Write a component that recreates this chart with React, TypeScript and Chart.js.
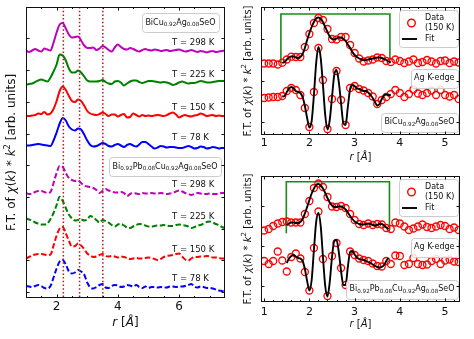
import React, { useEffect, useRef } from "react";
import { Chart, registerables } from "chart.js";

Chart.register(...registerables);

const SANS = "'DejaVu Sans', 'Liberation Sans', sans-serif";
const INK = "#111111";

// ---------------- Left panel: F.T. magnitudes stacked by temperature ----------------
const leftR = [
  1.0, 1.1, 1.2, 1.3, 1.4, 1.5, 1.6, 1.7, 1.8, 1.9, 2.0, 2.1, 2.2, 2.3, 2.4, 2.5, 2.6, 2.7, 2.8, 2.9,
  3.0, 3.1, 3.2, 3.3, 3.4, 3.5, 3.6, 3.7, 3.8, 3.9, 4.0, 4.1, 4.2, 4.3, 4.4, 4.5, 4.6, 4.7, 4.8, 4.9,
  5.0, 5.1, 5.2, 5.3, 5.4, 5.5, 5.6, 5.7, 5.8, 5.9, 6.0, 6.1, 6.2, 6.3, 6.4, 6.5, 6.6, 6.7, 6.8, 6.9,
  7.0, 7.1, 7.2, 7.3, 7.4, 7.5,
];
// BiCu0.92Ag0.08SeO
const bicu298 = [0, -1.5, 0, 1.5, 0, -1, 2, 1, 0, 8, 18, 26, 27.5, 22, 16, 13, 13.5, 14, 10, 5, 2.5, 2.5, 3, 0.5, 2, 4.5, 3, 0.5, -1, 3, 6, 3.5, 1.5, 1, 2.5, 1.5, 0, -1, 0.5, 1.5, 0.5, 0, 1, 0.5, -0.5, 0, 0.5, -0.5, 0, 0.5, 1, 0, -1, -0.5, 0.5, -0.5, -1.5, -0.5, -1, -2, -1, -0.5, -1.5, -1, -0.5, 0];
const bicu225 = [-2.5, -1.5, -1, 0.5, 2, 3, 2, 1, 5, 11, 18, 28, 27, 22, 14, 10, 10, 12, 10, 6, 2, 1, 1, 1, 1.5, 2.5, 0.5, -1, -1.5, 1, 1.5, 0, -3, -1, 1, 2, 2, 0.5, -0.5, 0.5, 1.5, 1.5, 1, 0.5, 0, 0.5, 0, -1, -2.5, -1.5, 0, 1, 0, -1, -0.5, -0.5, 0.5, 1.5, 1, 0, 0, 0.5, 1, 1.5, 1.5, 1.5];
const bicu150 = [0, 0, 0.5, 1, 2.5, 2, 4, 1.5, 2.5, 7, 15, 25, 29.5, 26, 20, 15, 14, 16.5, 15, 10.5, 5, 2.5, 1.5, 1, 2, 3.5, 2, 0, 1.5, 1.5, -0.5, 1, 2, -1.5, -1, 2.5, 1, -0.5, 1, 0, 0.5, 0, 0.5, 1, 0.5, 0, 1, 2.5, 3.5, 1.5, -1.5, 0, 1, 0, -0.5, 0.5, 1, 2.5, 1.5, 0, 0.5, 1, 0, 0.5, 0, 0];
const bicu78 = [0, 0, 0.5, 1, 1.5, 1, 0.5, 0, -0.5, 5, 13, 22, 27.5, 25, 19, 16, 15, 17, 16, 11, 5, 0.5, -1, -0.5, 1, 2.5, 1.5, -0.5, -1, 0.5, 1.5, 0, -1.5, 0.5, 1.5, 0, -1, 1, 3.5, 3.5, 1.5, -1, -3, -2, -0.5, -1, -2, -1.5, -1.5, -2, -2.5, -2.5, -1.5, -0.5, -1.5, -3, -2.5, -1, -1.5, -3, -2.5, -1.5, -2, -3, -2.5, -2.5];
// Bi0.92Pb0.08Cu0.92Ag0.08SeO
const pb298 = [0, -1, -0.5, 1, 2, 2, 1, 0, 1, 10, 20, 27, 26, 20, 15, 13, 12, 12.5, 10, 7.5, 6.5, 6, 5, 3, 0, 2, 4, 2.5, 1.5, 0.5, 0.5, 1, 0, -3, -1, 0, -0.5, -1, 0, -0.5, -0.5, 0, -0.5, -0.5, 0, -0.5, -1, -0.5, 0, 1.5, 2.5, 1.5, 0, -1, -2, -1, 0, -0.5, -1, -1, -0.5, -1, -1, -0.5, 0, 0];
const pb225 = [6.7, 5.5, 4.5, 2.5, 1.5, 0.5, 0.5, 1.5, 6, 12, 20, 28.3, 24, 17, 10.5, 6.7, 4.5, 5, 5.5, 4.5, 5.5, 9, 7.5, 5, 2.5, 5, 4, 2.3, 0, -1.5, 0.5, 1, -0.5, -2.5, -3, -1.5, 0, 1, 0.5, -0.5, -1.5, -1.5, -1, -0.5, -0.5, 0, -0.5, -1, -1, 0, 0.5, 0, -0.5, -1.5, -3, -2, -0.5, 0, 1.5, 3, 3.5, 2.5, 1, 0, -2, -3];
const pb150 = [-1, 0.5, 2, 3, 3.5, 3.5, 3, 2.5, 3, 12, 22, 29, 30.5, 24, 17, 11, 11.5, 14, 12, 8.5, 4, 2, 0.5, 1, 2.5, 3.5, 1.5, 1, 1.5, 1, 0, 1, 0.5, -0.5, -1.5, -1, -0.5, -1, -1, -0.5, 0, -0.5, -1.5, -2.5, -1.5, 0.5, 1.5, 2, 2.5, 3.5, 4, 1, -2, -3, -1, 0.5, 0.5, 1, 1, 1.5, 1, 0, 0, -0.5, -1, -1];
const pb78 = [0.5, 0, -0.5, 0.5, 1.5, 0.5, -1.5, -2, 0.5, 9, 18, 25, 26.5, 22, 15, 13, 14, 16.5, 15, 12, 4, -1, -2, -0.5, 1.5, 2.5, -1, -1.5, 0.5, 1.5, 1, -0.5, 0, 1.5, 1, 0, 1.5, -0.5, -1.5, 0, -1.5, -0.5, -0.5, -1, -0.5, -1, -1, 0, 0, -0.5, 0, 0, 0.5, 1.5, 2.5, 0, -1, 0, -0.5, -1.5, -1.5, -2, -3, -4, -4.5, -5];

const leftCurves = [bicu298, bicu225, bicu150, bicu78, pb298, pb225, pb150, pb78];
const leftOffsets = [241.5, 209.5, 176, 146.5, 99, 67, 34.5, 5.5];
const leftTemps = ["298", "225", "150", "78", "298", "225", "150", "78"];
const tempColors = ["#bf00bf", "#008000", "#ff0000", "#0000ff"];
const shellMarkers = [2.22, 2.75, 3.51];

const leftXMajor = [2, 4, 6];
const leftXMinor = [1.5, 2.5, 3, 3.5, 4.5, 5, 5.5, 6.5, 7];
const leftYMajor = [0, 31.7, 63.4, 95.1, 126.8, 158.5, 190.2, 221.9, 253.6];

// ---------------- Right panels: Ag K-edge fits at 150 K ----------------
const rightR = [
  1.0, 1.1, 1.2, 1.3, 1.4, 1.5, 1.6, 1.7, 1.8, 1.9, 2.0, 2.1, 2.2, 2.3, 2.4, 2.5, 2.6, 2.7, 2.8, 2.9,
  3.0, 3.1, 3.2, 3.3, 3.4, 3.5, 3.6, 3.7, 3.8, 3.9, 4.0, 4.1, 4.2, 4.3, 4.4, 4.5, 4.6, 4.7, 4.8, 4.9,
  5.0, 5.1, 5.2, 5.3,
];
const bicuMag = [71.5, 71.5, 71.5, 70.5, 72.3, 75.5, 78.3, 78, 78, 88, 101, 112, 117, 115, 106, 96, 95.5, 98, 98, 90, 82, 76.5, 73.5, 74.5, 75.5, 77.5, 77, 74, 73, 75.5, 74, 72, 73.5, 75.5, 72, 73, 75, 73.5, 71.5, 74, 74.5, 72, 73.5, 72.5];
const bicuIm = [37, 37.5, 38, 38, 39, 44, 47, 45, 40, 27, 8, 43, 87, 55, 6, 36, 64, 35, 10, 47, 49, 46, 44.5, 42, 38.5, 31, 35, 38, 41, 45, 42, 38, 41, 45.5, 41.5, 40, 42, 44.5, 40, 45, 40, 38.5, 40, 36];
const bicuFitR = [
  1.4, 1.45, 1.5, 1.55, 1.6, 1.65, 1.7, 1.75, 1.8, 1.85, 1.9, 1.95, 2.0, 2.05, 2.1, 2.15, 2.2, 2.25, 2.3, 2.35,
  2.4, 2.45, 2.5, 2.55, 2.6, 2.65, 2.7, 2.75, 2.8, 2.85, 2.9, 2.95, 3.0, 3.05, 3.1, 3.15, 3.2, 3.25, 3.3, 3.35,
  3.4, 3.45, 3.5, 3.55, 3.6, 3.65, 3.7, 3.75, 3.8,
];
const bicuFitMag = [72, 73, 75.5, 77.5, 78.5, 78.5, 77.5, 77, 78, 81, 87, 95, 102, 108, 113, 116.5, 117.5, 116, 113, 108, 103, 98.5, 96, 95.5, 96.5, 97.5, 97.5, 96, 94, 90.5, 87, 83, 80, 78, 76.5, 75.5, 75, 75, 75.5, 76, 76.5, 77, 77.5, 77.5, 77, 76, 75, 73.5, 72.5];
const bicuFitIm = [38.5, 39, 43, 46.5, 48, 46.5, 44, 43, 42, 38, 29, 17, 7.5, 14, 40, 72, 88, 77, 50, 20, 5.5, 15, 38, 60, 65, 53, 32, 12, 10, 28, 46, 50, 49, 46.5, 46, 45, 44, 44, 42.5, 40, 37, 33, 29.5, 31, 36, 39.5, 40.5, 40, 40];
const bicuWindowR = [1.37, 1.37, 3.78, 3.78];
const bicuWindowY = [72, 121, 121, 75];

const pbMag = [71.5, 73, 76, 78.5, 80, 80.5, 79.5, 79.5, 79.5, 88, 101, 114, 118.5, 115, 105, 95.5, 95, 96, 94, 88, 82, 78, 77, 78.5, 77, 78, 77.5, 74, 73, 79.5, 78.5, 75.5, 72, 73.5, 75.5, 77.5, 75, 74, 75.5, 77, 76, 73, 74.5, 72];
const pbIm = [41, 38, 41, 50.5, 41.5, 30.5, 45, 48.5, 43.5, 30, 11.5, 54, 90.5, 43, 6, 46, 59, 34, 17, 50.5, 47, 43.5, 42, 41, 38.5, 36, 35.5, 41, 38, 46.5, 46, 37, 38, 44, 38, 37, 37.5, 41, 43, 38, 41.5, 42.5, 40.5, 40];
const pbFitR = [
  1.5, 1.55, 1.6, 1.65, 1.7, 1.75, 1.8, 1.85, 1.9, 1.95, 2.0, 2.05, 2.1, 2.15, 2.2, 2.25, 2.3, 2.35, 2.4, 2.45,
  2.5, 2.55, 2.6, 2.65, 2.7, 2.75, 2.8, 2.85, 2.9, 2.95, 3.0, 3.05, 3.1, 3.15, 3.2, 3.25, 3.3, 3.35, 3.4, 3.45,
  3.5, 3.55, 3.6, 3.65, 3.7, 3.75,
];
const pbFitMag = [77, 78.5, 79.5, 79.5, 79, 79, 80, 83, 88.5, 95, 102, 108.5, 113.5, 117, 118, 116.5, 113.5, 109, 104, 99.5, 96.5, 95, 95, 95.5, 95.5, 94.5, 92.5, 89.5, 86, 83, 80.5, 79, 78, 77.5, 77.5, 78, 78.5, 78, 77, 76.5, 77, 78, 78, 76.5, 74.5, 73];
const pbFitIm = [39, 43.5, 46, 47, 45.5, 44, 43.5, 41, 33, 21, 11.5, 22, 52, 80, 89, 76, 45, 16, 5.5, 20, 45, 61, 62, 50, 31, 17, 17, 35, 50, 51, 47.5, 44.5, 43, 42.5, 42, 41, 40, 39, 37.5, 36, 35, 34.5, 35, 37, 41, 44];
const pbWindowR = [1.49, 1.49, 3.77, 3.77];
const pbWindowY = [68.7, 120.3, 120.3, 70.3];

const rightXMajor = [1, 2, 3, 4, 5];
const rightXMinor = [1.2, 1.4, 1.6, 1.8, 2.2, 2.4, 2.6, 2.8, 3.2, 3.4, 3.6, 3.8, 4.2, 4.4, 4.6, 4.8, 5.2];
const bicuYMajor = [13.3, 54.5, 95.7];
const pbYMajor = [16, 55.8, 95.6];

const BICU = "BiCu0.92Ag0.08SeO";
const PB = "Bi0.92Pb0.08Cu0.92Ag0.08SeO";

// ---------------- rich text helpers ----------------
type Seg = { t: string; sub?: boolean; sup?: boolean; it?: boolean };

function formula(str: string): Seg[] {
  return str
    .split(/(\d+(?:\.\d+)?)/)
    .filter((s) => s.length > 0)
    .map((s) => (/^\d/.test(s) ? { t: s, sub: true } : { t: s }));
}

function segFont(s: Seg, size: number) {
  const sz = s.sub || s.sup ? size * 0.7 : size;
  return `${s.it ? "italic " : ""}${sz}px ${SANS}`;
}

function segsWidth(ctx: CanvasRenderingContext2D, segs: Seg[], size: number) {
  let w = 0;
  for (const s of segs) {
    ctx.font = segFont(s, size);
    w += ctx.measureText(s.t).width;
  }
  return w;
}

function drawSegs(
  ctx: CanvasRenderingContext2D,
  segs: Seg[],
  x: number,
  y: number,
  size: number,
  align: "left" | "center" | "right"
) {
  const w = segsWidth(ctx, segs, size);
  let cx = align === "center" ? x - w / 2 : align === "right" ? x - w : x;
  ctx.textAlign = "left";
  ctx.textBaseline = "middle";
  ctx.fillStyle = INK;
  for (const s of segs) {
    ctx.font = segFont(s, size);
    const dy = s.sub ? size * 0.3 : s.sup ? -size * 0.38 : 0;
    ctx.fillText(s.t, cx, y + dy);
    cx += ctx.measureText(s.t).width;
  }
}

function roundBox(ctx: CanvasRenderingContext2D, x: number, y: number, w: number, h: number) {
  ctx.save();
  ctx.beginPath();
  ctx.roundRect(Math.round(x) + 0.5, Math.round(y) + 0.5, Math.round(w), Math.round(h), 3);
  ctx.fillStyle = "rgba(255,255,255,0.85)";
  ctx.fill();
  ctx.strokeStyle = "#cccccc";
  ctx.lineWidth = 1;
  ctx.stroke();
  ctx.restore();
}

function textBox(ctx: CanvasRenderingContext2D, segs: Seg[], size: number, right: number, cy: number) {
  const padX = 3.5;
  const h = 19;
  const w = segsWidth(ctx, segs, size) + padX * 2;
  roundBox(ctx, right - w, cy - h / 2, w, h);
  drawSegs(ctx, segs, right - w + padX, cy, size, "left");
}

const yTitle: Seg[] = [
  { t: "F.T. of " },
  { t: "χ", it: true },
  { t: "(" },
  { t: "k", it: true },
  { t: ") * " },
  { t: "k", it: true },
  { t: "2", sup: true },
  { t: " [arb. units]" },
];
const xTitle: Seg[] = [{ t: "r", it: true }, { t: " [" }, { t: "Å", it: true }, { t: "]" }];

function frameAndTicks(chart: any, xMajor: number[], xMinor: number[], yMajor: number[]) {
  const { ctx, chartArea: a, scales } = chart;
  ctx.save();
  ctx.strokeStyle = INK;
  ctx.lineWidth = 1;
  ctx.beginPath();
  const xs: [number[], number][] = [
    [xMajor, 3.5],
    [xMinor, 2],
  ];
  for (const [vals, len] of xs) {
    for (const v of vals) {
      const p = Math.round(scales.x.getPixelForValue(v)) + 0.5;
      ctx.moveTo(p, a.bottom);
      ctx.lineTo(p, a.bottom - len);
      ctx.moveTo(p, a.top);
      ctx.lineTo(p, a.top + len);
    }
  }
  for (const v of yMajor) {
    const p = Math.round(scales.y.getPixelForValue(v)) + 0.5;
    ctx.moveTo(a.left, p);
    ctx.lineTo(a.left + 3.5, p);
    ctx.moveTo(a.right, p);
    ctx.lineTo(a.right - 3.5, p);
  }
  ctx.stroke();
  ctx.strokeRect(a.left + 0.5, a.top + 0.5, a.right - a.left - 1, a.bottom - a.top - 1);
  ctx.restore();
}

function axisTitles(chart: any, size: number, xGap: number, yGap: number) {
  const { ctx, chartArea: a } = chart;
  drawSegs(ctx, xTitle, (a.left + a.right) / 2, a.bottom + xGap, size, "center");
  ctx.save();
  ctx.translate(a.left - yGap, (a.top + a.bottom) / 2);
  ctx.rotate(-Math.PI / 2);
  drawSegs(ctx, yTitle, 0, 0, size, "center");
  ctx.restore();
}

function baseScales(
  xMin: number,
  xMax: number,
  xMajor: number[],
  yMin: number,
  yMax: number,
  yMajor: number[],
  yWidth: number,
  xHeight: number,
  tickSize: number,
  tickPad: number
) {
  return {
    x: {
      type: "linear",
      min: xMin,
      max: xMax,
      grid: { display: false, drawTicks: false },
      border: { display: false },
      afterBuildTicks: (s: any) => {
        s.ticks = xMajor.map((v) => ({ value: v }));
      },
      afterFit: (s: any) => {
        s.height = xHeight;
      },
      ticks: {
        font: { family: SANS, size: tickSize },
        color: INK,
        padding: tickPad,
        maxRotation: 0,
        autoSkip: false,
        callback: (v: any) => String(v),
      },
    },
    y: {
      type: "linear",
      min: yMin,
      max: yMax,
      grid: { display: false, drawTicks: false },
      border: { display: false },
      ticks: { display: false },
      afterBuildTicks: (s: any) => {
        s.ticks = yMajor.map((v) => ({ value: v }));
      },
      afterFit: (s: any) => {
        s.width = yWidth;
      },
    },
  };
}

function leftConfig(): any {
  const datasets = leftCurves.map((amp, i) => ({
    data: leftR.map((r, j) => ({ x: r, y: leftOffsets[i] + amp[j] })),
    borderColor: tempColors[i % 4],
    borderWidth: 2,
    borderDash: i >= 4 ? [5.5, 2.5] : [],
    pointRadius: 0,
    cubicInterpolationMode: "monotone",
    fill: false,
  }));
  const overlay = {
    id: "leftOverlay",
    afterDatasetsDraw(chart: any) {
      const { ctx, chartArea: a, scales } = chart;
      // shell positions
      ctx.save();
      ctx.strokeStyle = "#b01c1c";
      ctx.lineWidth = 1.5;
      ctx.setLineDash([1.5, 2.2]);
      ctx.beginPath();
      for (const m of shellMarkers) {
        const p = scales.x.getPixelForValue(m);
        ctx.moveTo(p, a.top);
        ctx.lineTo(p, a.bottom);
      }
      ctx.stroke();
      ctx.restore();
      // temperature labels
      leftTemps.forEach((t, i) => {
        drawSegs(
          ctx,
          [{ t: `T = ${t} K` }],
          scales.x.getPixelForValue(5.77),
          scales.y.getPixelForValue(leftOffsets[i] + 8),
          8.5,
          "left"
        );
      });
      textBox(ctx, formula(BICU), 8, a.right - 6, a.top + 15.5);
      textBox(ctx, formula(PB), 8, a.right - 4, a.top + 159.5);
      frameAndTicks(chart, leftXMajor, leftXMinor, leftYMajor);
      axisTitles(chart, 12, 25, 14);
    },
  };
  return {
    type: "line",
    data: { datasets },
    options: {
      animation: false,
      responsive: false,
      maintainAspectRatio: false,
      devicePixelRatio: 1,
      layout: { padding: { left: 0, top: 7, right: 7, bottom: 0 } },
      plugins: { legend: { display: false }, tooltip: { enabled: false } },
      scales: baseScales(1, 7.5, leftXMajor, -6, 285, leftYMajor, 26, 41, 12, 2),
    },
    plugins: [overlay],
  };
}

function rightConfig(
  name: string,
  mag: number[],
  im: number[],
  fitR: number[],
  fitMag: number[],
  fitIm: number[],
  winR: number[],
  winY: number[],
  yMax: number,
  yMajor: number[],
  padTop: number,
  xHeight: number,
  tickPad: number
): any {
  const circles = (vals: number[]) => ({
    data: rightR.map((r, j) => ({ x: r, y: vals[j] })),
    showLine: false,
    pointStyle: "circle",
    pointRadius: 3.5,
    pointBorderWidth: 1.3,
    pointBorderColor: "#ff0000",
    pointBackgroundColor: "rgba(0,0,0,0)",
    borderColor: "#ff0000",
  });
  const fit = (vals: number[]) => ({
    data: fitR.map((r, j) => ({ x: r, y: vals[j] })),
    borderColor: "#000000",
    borderWidth: 1.9,
    pointRadius: 0,
    cubicInterpolationMode: "monotone",
    fill: false,
  });
  const datasets = [
    fit(fitMag),
    fit(fitIm),
    circles(mag),
    circles(im),
    {
      data: winR.map((r, j) => ({ x: r, y: winY[j] })),
      borderColor: "#1a8a1a",
      borderWidth: 1.6,
      pointRadius: 0,
      tension: 0,
      fill: false,
    },
  ];
  const overlay = {
    id: "rightOverlay",
    afterDatasetsDraw(chart: any) {
      const { ctx, chartArea: a } = chart;
      // legend
      const lw = 59;
      const lh = 37;
      const lx = a.right - 2 - lw;
      const ly = a.top + 3;
      roundBox(ctx, lx, ly, lw, lh);
      ctx.save();
      ctx.strokeStyle = "#ff0000";
      ctx.lineWidth = 1.4;
      ctx.beginPath();
      ctx.arc(lx + 12.5, ly + 13, 3.8, 0, Math.PI * 2);
      ctx.stroke();
      ctx.strokeStyle = "#000000";
      ctx.lineWidth = 1.9;
      ctx.beginPath();
      ctx.moveTo(lx + 3, ly + 29);
      ctx.lineTo(lx + 18, ly + 29);
      ctx.stroke();
      ctx.restore();
      drawSegs(ctx, [{ t: "Data" }], lx + 26, ly + 8, 8, "left");
      drawSegs(ctx, [{ t: "(150 K)" }], lx + 26, ly + 18, 8, "left");
      drawSegs(ctx, [{ t: "Fit" }], lx + 26, ly + 29, 8, "left");
      textBox(ctx, [{ t: "Ag K-edge" }], 8, a.right - 2, a.top + 71);
      textBox(ctx, formula(name), 8, a.right - 2, a.bottom - 13);
      frameAndTicks(chart, rightXMajor, rightXMinor, yMajor);
      axisTitles(chart, 10, 22, 13);
    },
  };
  return {
    type: "line",
    data: { datasets },
    options: {
      animation: false,
      responsive: false,
      maintainAspectRatio: false,
      devicePixelRatio: 1,
      layout: { padding: { left: 0, top: padTop, right: 14, bottom: 0 } },
      plugins: { legend: { display: false }, tooltip: { enabled: false } },
      scales: baseScales(0.93, 5.33, rightXMajor, 0, yMax, yMajor, 24, xHeight, 11, tickPad),
    },
    plugins: [overlay],
  };
}

function Panel({ x, y, w, h, make }: { x: number; y: number; w: number; h: number; make: () => any }) {
  const ref = useRef<HTMLCanvasElement | null>(null);
  useEffect(() => {
    const chart = new Chart(ref.current as HTMLCanvasElement, make());
    return () => chart.destroy();
  }, []);
  return (
    <div style={{ position: "absolute", left: x, top: y, width: w, height: h }}>
      <canvas ref={ref} width={w} height={h} style={{ display: "block", width: w, height: h }} />
    </div>
  );
}

export default function App() {
  return (
    <div style={{ position: "absolute", left: 0, top: 0, width: 474, height: 339, background: "#ffffff" }}>
      <Panel x={0} y={0} w={232} h={339} make={leftConfig} />
      <Panel
        x={237}
        y={0}
        w={237}
        h={170}
        make={() =>
          rightConfig(BICU, bicuMag, bicuIm, bicuFitR, bicuFitMag, bicuFitIm, bicuWindowR, bicuWindowY, 128, bicuYMajor, 7, 35, 2)
        }
      />
      <Panel
        x={237}
        y={170}
        w={237}
        h={169}
        make={() =>
          rightConfig(PB, pbMag, pbIm, pbFitR, pbFitMag, pbFitIm, pbWindowR, pbWindowY, 126, pbYMajor, 6, 37, 4)
        }
      />
    </div>
  );
}
